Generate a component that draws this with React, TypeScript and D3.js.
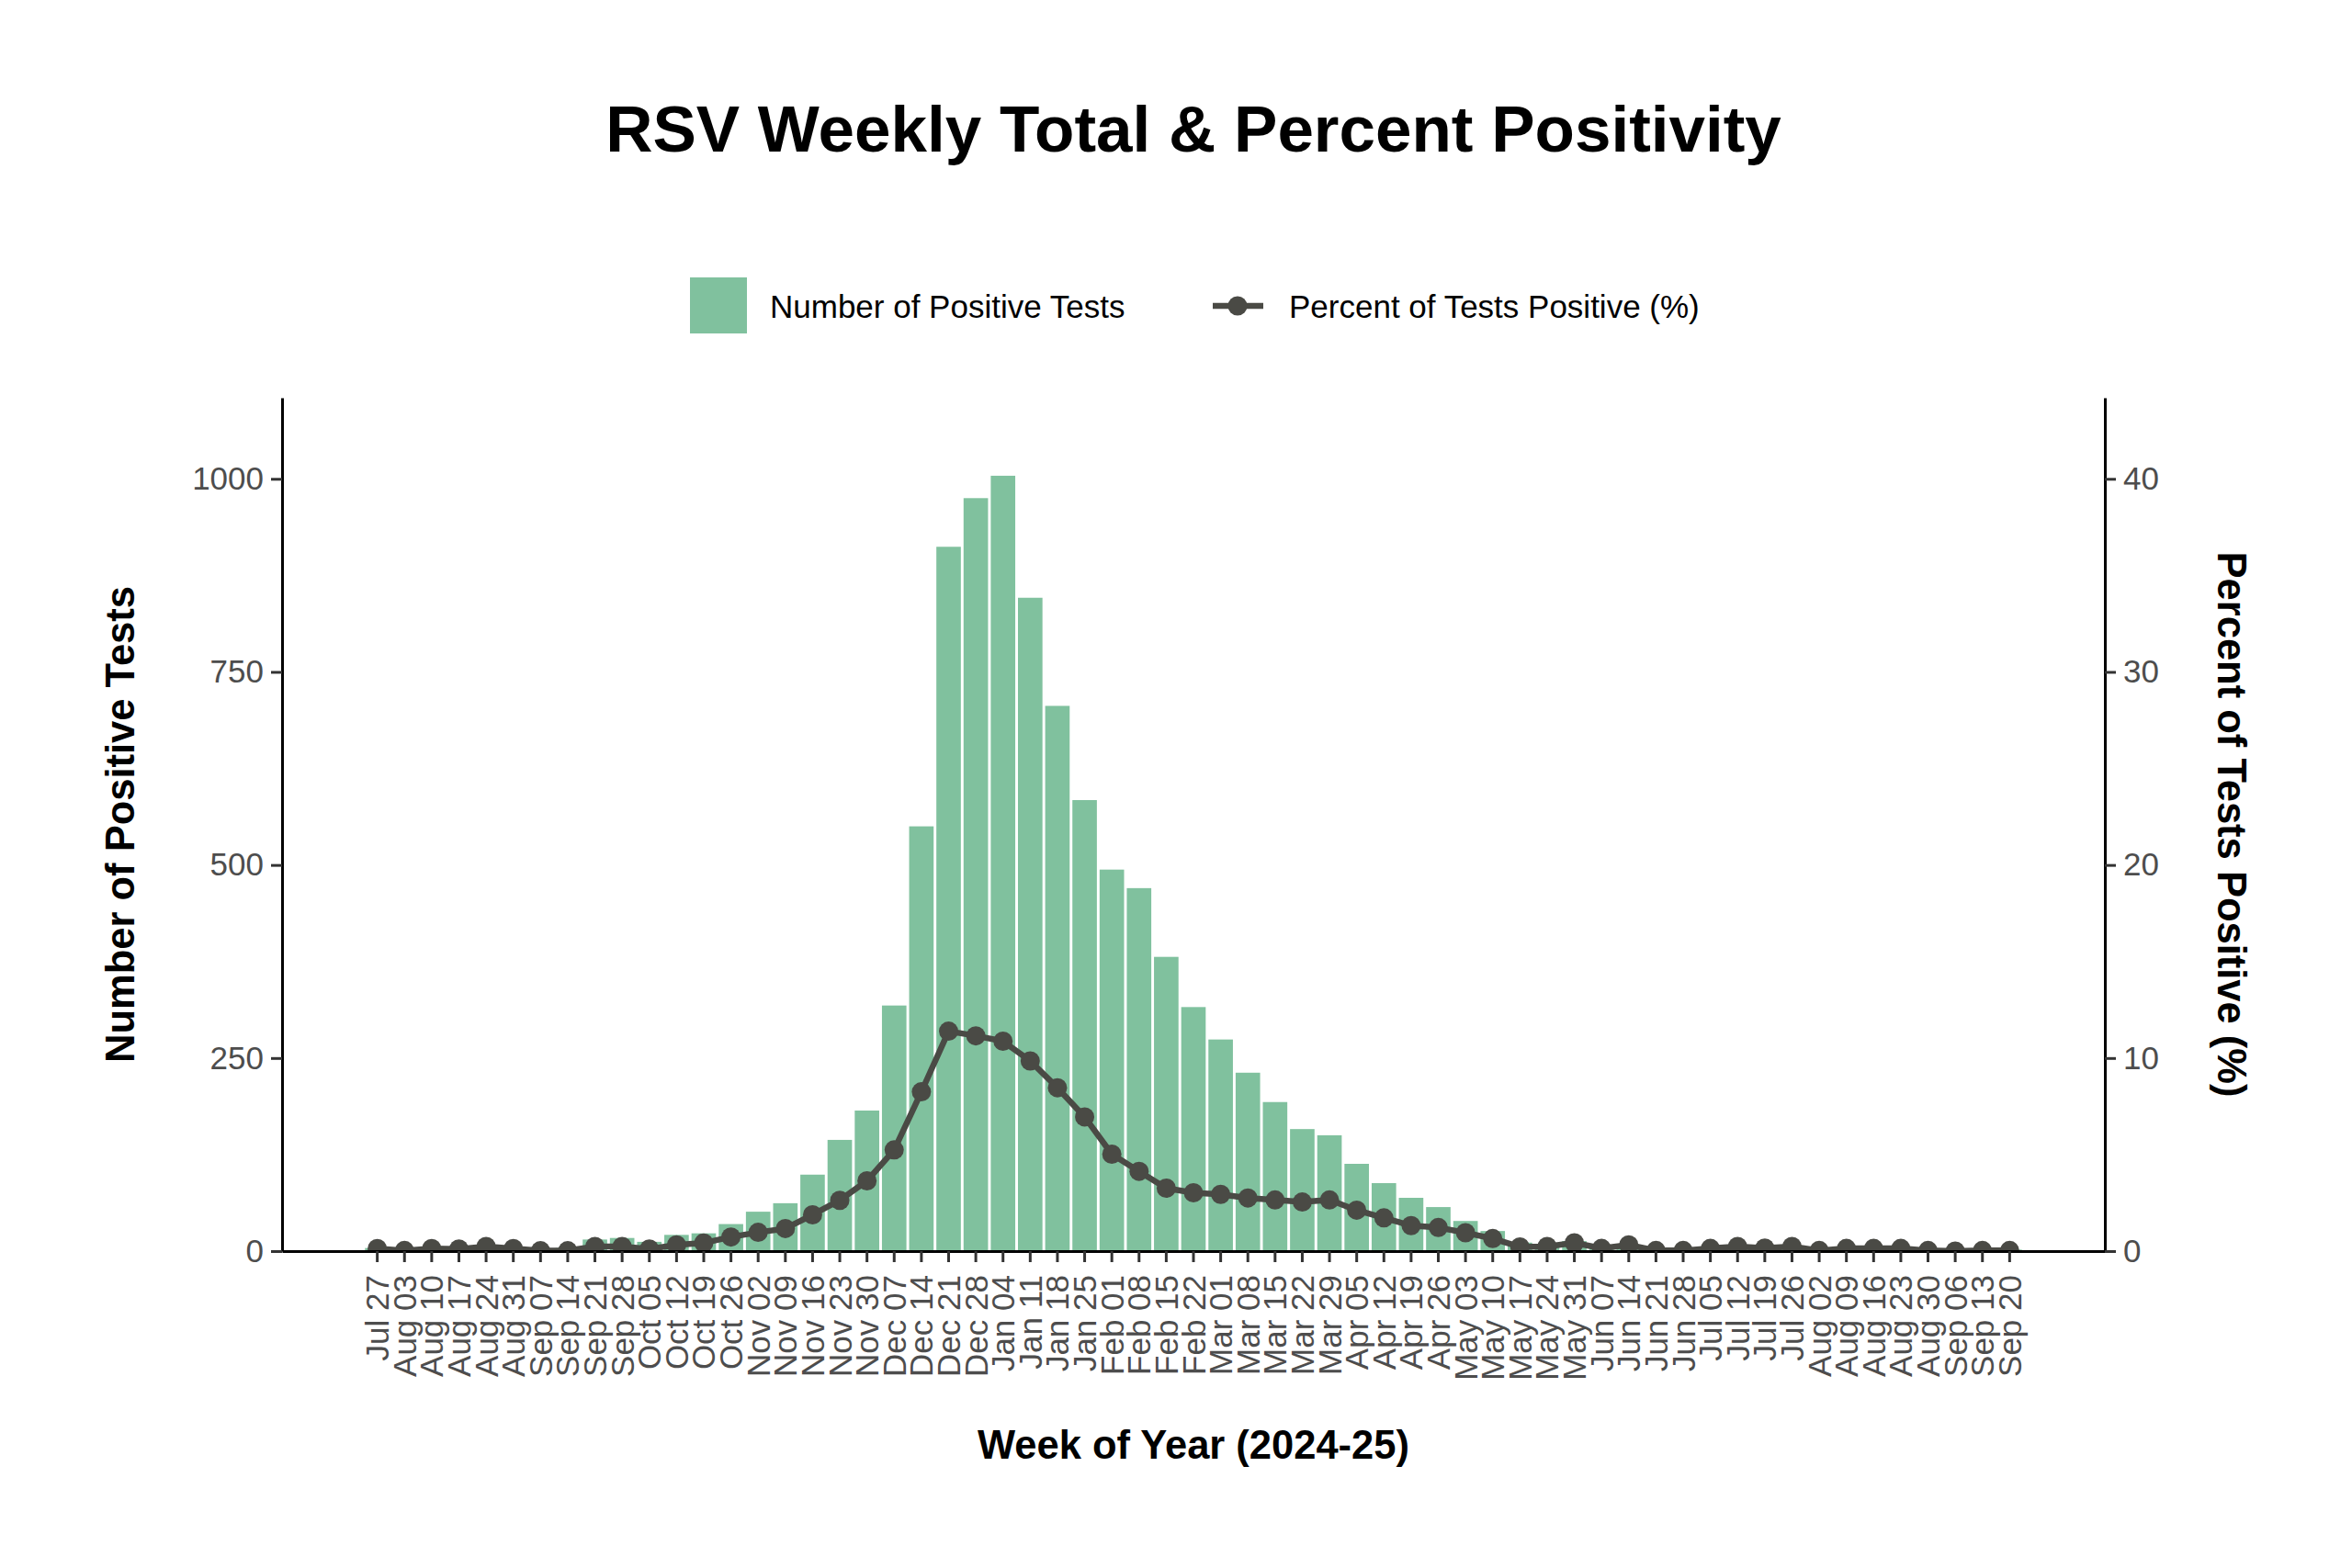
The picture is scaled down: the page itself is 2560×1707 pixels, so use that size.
import { useRef, useEffect } from "react";
import { select, scaleBand, scaleLinear, axisBottom, axisLeft, axisRight, line } from "d3";

const WIDTH = 2560;
const HEIGHT = 1707;
const margin = { top: 433, right: 269, bottom: 345, left: 307 };
const innerW = WIDTH - margin.left - margin.right;
const innerH = HEIGHT - margin.top - margin.bottom;

const FONT = '"Liberation Sans", Arial, Helvetica, sans-serif';
const BAR_COLOR = "#80c19e";
const LINE_COLOR = "#4a4a45";
const TICK_TEXT = "#4d4d4d";

// weekly season, week ending dates
const weekLabels = [
  "Jul 27", "Aug 03", "Aug 10", "Aug 17", "Aug 24", "Aug 31", "Sep 07", "Sep 14", "Sep 21", "Sep 28",
  "Oct 05", "Oct 12", "Oct 19", "Oct 26", "Nov 02", "Nov 09", "Nov 16", "Nov 23", "Nov 30", "Dec 07",
  "Dec 14", "Dec 21", "Dec 28", "Jan 04", "Jan 11", "Jan 18", "Jan 25", "Feb 01", "Feb 08", "Feb 15",
  "Feb 22", "Mar 01", "Mar 08", "Mar 15", "Mar 22", "Mar 29", "Apr 05", "Apr 12", "Apr 19", "Apr 26",
  "May 03", "May 10", "May 17", "May 24", "May 31", "Jun 07", "Jun 14", "Jun 21", "Jun 28", "Jul 05",
  "Jul 12", "Jul 19", "Jul 26", "Aug 02", "Aug 09", "Aug 16", "Aug 23", "Aug 30", "Sep 06", "Sep 13",
  "Sep 20",
];

const positiveTests = [
  4, 2, 3, 3, 5, 4, 2, 4, 15, 17,
  12, 21, 23, 35, 51, 62, 99, 144, 182, 318,
  550, 912, 975, 1004, 846, 706, 584, 494, 470, 381,
  316, 274, 231, 193, 158, 150, 113, 88, 69, 57,
  39, 26, 11, 6, 13, 4, 5, 2, 2, 3,
  4, 3, 4, 2, 3, 3, 3, 2, 1, 2,
  2,
];

const percentPositive = [
  0.13, 0.03, 0.13, 0.11, 0.24, 0.13, 0.02, 0.02, 0.24, 0.24,
  0.11, 0.32, 0.42, 0.73, 0.97, 1.17, 1.88, 2.63, 3.64, 5.24,
  8.25, 11.39, 11.15, 10.87, 9.85, 8.46, 6.95, 5.02, 4.13, 3.26,
  3.02, 2.94, 2.75, 2.65, 2.54, 2.65, 2.12, 1.72, 1.32, 1.22,
  0.95, 0.65, 0.22, 0.24, 0.43, 0.14, 0.32, 0.03, 0.03, 0.14,
  0.24, 0.16, 0.24, 0.03, 0.14, 0.14, 0.14, 0.03, 0.0, 0.03,
  0.03,
];

const countTicks = [0, 250, 500, 750, 1000];
const percentTicks = [0, 10, 20, 30, 40];
const COUNT_MAX = 1105;
const COUNT_PER_PERCENT = 25;

function RsvChart() {
  const svgRef = useRef<SVGSVGElement>(null);

  useEffect(() => {
    const svg = select(svgRef.current);
    const chart = svg.select(".chart");

    const x = scaleBand<string>()
      .domain(weekLabels)
      .range([0, innerW])
      .paddingInner(0.1)
      .paddingOuter(3.05);
    const yLeft = scaleLinear().domain([0, COUNT_MAX]).range([innerH, 0]);
    const yRight = scaleLinear().domain([0, COUNT_MAX / COUNT_PER_PERCENT]).range([innerH, 0]);
    const cx = (i: number) => (x(weekLabels[i]) ?? 0) + x.bandwidth() / 2;

    // bars
    chart.select(".bars")
      .selectAll("rect")
      .data(positiveTests)
      .join("rect")
      .attr("x", (_, i) => x(weekLabels[i]) ?? 0)
      .attr("y", d => yLeft(d))
      .attr("width", x.bandwidth())
      .attr("height", d => innerH - yLeft(d))
      .attr("fill", BAR_COLOR);

    // percent line + points
    const pctLine = line<number>()
      .x((_, i) => cx(i))
      .y(d => yRight(d));
    chart.select(".pct-line")
      .attr("d", pctLine(percentPositive))
      .attr("fill", "none")
      .attr("stroke", LINE_COLOR)
      .attr("stroke-width", 6.5)
      .attr("stroke-linejoin", "round");
    chart.select(".pct-dots")
      .selectAll("circle")
      .data(percentPositive)
      .join("circle")
      .attr("cx", (_, i) => cx(i))
      .attr("cy", d => yRight(d))
      .attr("r", 10.5)
      .attr("fill", LINE_COLOR);

    // axes
    const styleAxis = (g: any) => {
      g.select(".domain").attr("stroke", "#000").attr("stroke-width", 3);
      g.selectAll(".tick line").attr("stroke", "#333").attr("stroke-width", 3);
      g.selectAll(".tick text")
        .attr("fill", TICK_TEXT)
        .style("font-family", FONT)
        .style("font-size", "35px");
    };

    const xAxis = chart.select(".x-axis")
      .attr("transform", `translate(0, ${innerH})`)
      .call(axisBottom(x).tickSize(12).tickSizeOuter(0) as any);
    styleAxis(xAxis);
    xAxis.selectAll(".tick text")
      .attr("transform", "rotate(-90)")
      .attr("x", -26)
      .attr("y", 0)
      .attr("dy", null)
      .attr("dominant-baseline", "central")
      .attr("text-anchor", "end");

    const yAxisLeft = chart.select(".y-left-axis")
      .call(axisLeft(yLeft).tickValues(countTicks).tickFormat(d => String(d)).tickSize(12).tickPadding(8).tickSizeOuter(0) as any);
    styleAxis(yAxisLeft);

    const yAxisRight = chart.select(".y-right-axis")
      .attr("transform", `translate(${innerW}, 0)`)
      .call(axisRight(yRight).tickValues(percentTicks).tickFormat(d => String(d)).tickSize(12).tickPadding(8).tickSizeOuter(0) as any);
    styleAxis(yAxisRight);
  }, []);

  const legendY = 333;

  return (
    <svg
      ref={svgRef}
      width={WIDTH}
      height={HEIGHT}
      style={{ position: "absolute", left: 0, top: 0, background: "#fff" }}
      fontFamily={FONT}
    >
      <defs>
        <clipPath id="panel-clip">
          <rect x={0} y={0} width={innerW} height={innerH} />
        </clipPath>
      </defs>

      <text x={margin.left + innerW / 2} y={165} textAnchor="middle" fontSize={71} fontWeight="bold" fill="#000">
        RSV Weekly Total &amp; Percent Positivity
      </text>

      {/* legend */}
      <g className="legend">
        <rect x={751} y={302} width={62} height={61} fill={BAR_COLOR} />
        <text x={838} y={legendY} dominantBaseline="central" fontSize={35} fill="#000">
          Number of Positive Tests
        </text>
        <line x1={1320} x2={1375} y1={legendY} y2={legendY} stroke={LINE_COLOR} strokeWidth={6.5} />
        <circle cx={1347} cy={legendY} r={10.5} fill={LINE_COLOR} />
        <text x={1403} y={legendY} dominantBaseline="central" fontSize={35} fill="#000">
          Percent of Tests Positive (%)
        </text>
      </g>

      <g className="chart" transform={`translate(${margin.left}, ${margin.top})`}>
        <g clipPath="url(#panel-clip)">
          <g className="bars" />
          <path className="pct-line" />
          <g className="pct-dots" />
        </g>
        <g className="x-axis" />
        <g className="y-left-axis" />
        <g className="y-right-axis" />
      </g>

      {/* axis titles */}
      <text
        x={WIDTH - margin.right - innerW / 2}
        y={1573}
        textAnchor="middle"
        dominantBaseline="central"
        fontSize={43.5}
        fontWeight="bold"
      >
        Week of Year (2024-25)
      </text>
      <text
        transform={`translate(131, ${margin.top + innerH / 2}) rotate(-90)`}
        textAnchor="middle"
        dominantBaseline="central"
        fontSize={43.5}
        fontWeight="bold"
      >
        Number of Positive Tests
      </text>
      <text
        transform={`translate(2429, ${margin.top + innerH / 2}) rotate(90)`}
        textAnchor="middle"
        dominantBaseline="central"
        fontSize={43.5}
        fontWeight="bold"
      >
        Percent of Tests Positive (%)
      </text>
    </svg>
  );
}

export default function App() {
  return <RsvChart />;
}
